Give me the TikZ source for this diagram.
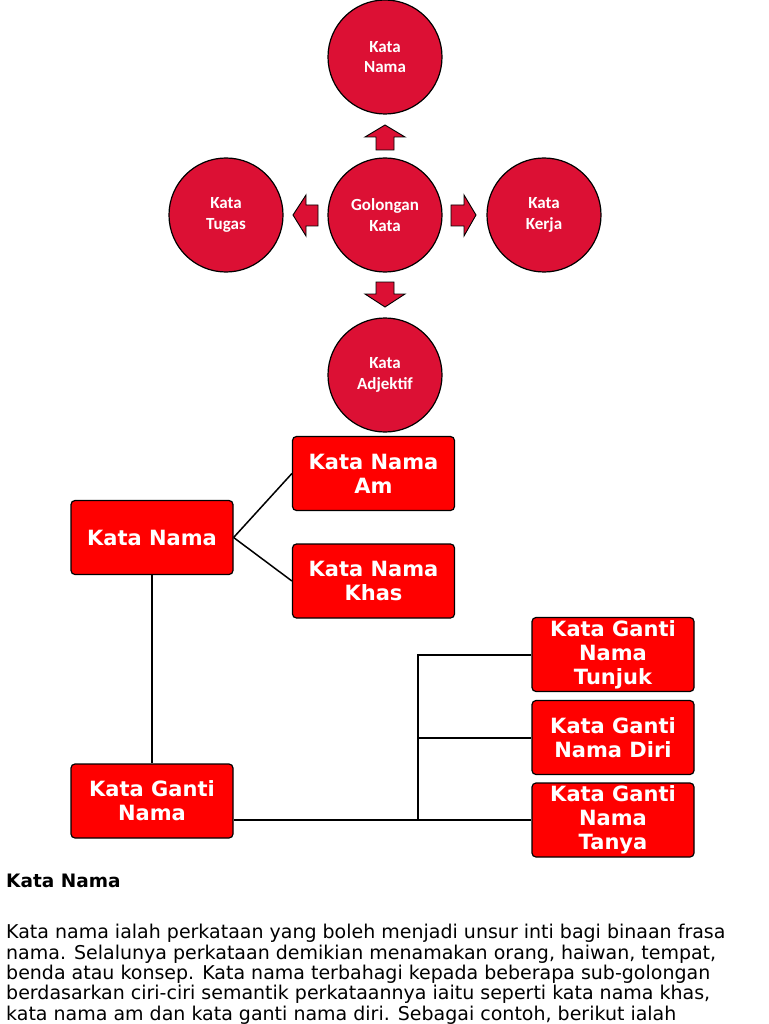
\documentclass[tikz,border=0pt]{standalone}
\usepackage{fontspec}
\setmainfont{DejaVu Sans}
\newfontfamily\carl{Carlito}
\begin{document}
\begin{tikzpicture}[x=1pt,y=-1pt,
 circ/.style={circle,draw=black,line width=1.2pt,fill={rgb,255:red,220;green,16;blue,52},minimum size=114pt,inner sep=0pt,text=white,font=\carl\bfseries\fontsize{17}{20.5}\selectfont,align=center},
 box/.style={draw=black,line width=1.2pt,rounded corners=4pt,fill={rgb,255:red,255;green,0;blue,0},minimum width=162pt,minimum height=74pt,inner sep=1pt,text=white,font=\bfseries\fontsize{21}{24}\selectfont,align=center},
 arr/.style={draw=black,line width=0.9pt,fill={rgb,255:red,220;green,16;blue,52}},
 ln/.style={line width=1.5pt}]
\useasboundingbox (0,0) rectangle (768,1024);
\fill[white] (0,0) rectangle (768,1024);
\node[circ] (kn) at (385,57) {Kata\\Nama};
\node[circ] (gk) at (385,215) {Golongan\\Kata};
\node[circ] (kt) at (226,215) {Kata\\Tugas};
\node[circ] (kk) at (544,215) {Kata\\Kerja};
\node[circ] (ka) at (385,375) {Kata\\Adjektif};
% block arrows
\draw[arr] (376,150)--(376,137)--(365,137)--(385,125)--(405,137)--(394,137)--(394,150)--cycle;
\draw[arr] (376,282)--(376,294)--(365,294)--(385,307)--(405,294)--(394,294)--(394,282)--cycle;
\draw[arr] (318,205)--(306,205)--(306,195)--(293,215)--(306,236)--(306,226)--(318,226)--cycle;
\draw[arr] (451,205)--(464,205)--(464,195)--(476,215)--(464,236)--(464,226)--(451,226)--cycle;
% boxes
\node[box] (am) at (373.5,473.5) {Kata Nama\\Am};
\node[box] (nama) at (152,537.5) {Kata Nama};
\node[box] (khas) at (373.5,581) {Kata Nama\\Khas};
\node[box] (kgn) at (152,801) {Kata Ganti\\Nama};
\node[box] (tunjuk) at (613,654.5) {Kata Ganti\\Nama\\Tunjuk};
\node[box] (diri) at (613,737.5) {Kata Ganti\\Nama Diri};
\node[box] (tanya) at (613,820) {Kata Ganti\\Nama\\Tanya};
\draw[ln] (nama.east) -- (am.west);
\draw[ln] (nama.east) -- (khas.west);
\draw[ln] (nama.south) -- (kgn.north);
\coordinate (j1) at (418,820);
\coordinate (j2) at (418,655);
\coordinate (j3) at (418,738);
\draw[ln] (kgn.east |- j1) -- (j1) -- (tanya.west |- j1);
\draw[ln] (j1) -- (j2) -- (tunjuk.west |- j2);
\draw[ln] (j3) -- (diri.west |- j3);
\node[anchor=west,inner sep=0pt,font=\bfseries\fontsize{18.5}{22}\selectfont] (h) at (6,881) {Kata Nama};
\node[anchor=north west,inner sep=0pt,align=left,font=\fontsize{19}{20.4}\selectfont] (body) at (6,924) {Kata nama ialah perkataan yang boleh menjadi unsur inti bagi binaan frasa\\nama. Selalunya perkataan demikian menamakan orang, haiwan, tempat,\\benda atau konsep. Kata nama terbahagi kepada beberapa sub-golongan\\berdasarkan ciri-ciri semantik perkataannya iaitu seperti kata nama khas,\\kata nama am dan kata ganti nama diri. Sebagai contoh, berikut ialah};
\end{tikzpicture}
\end{document}
